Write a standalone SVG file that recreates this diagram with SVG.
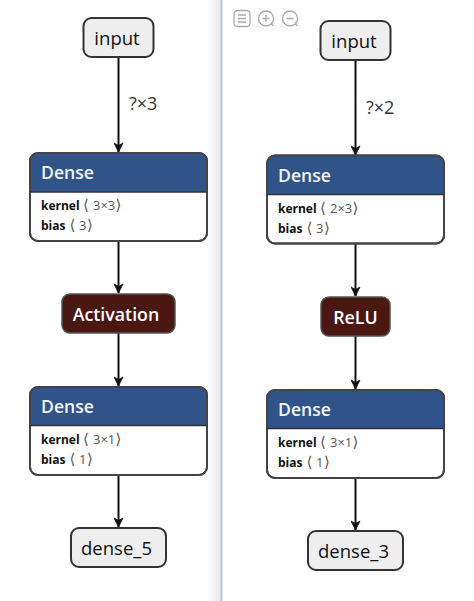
<svg xmlns="http://www.w3.org/2000/svg" width="474" height="601" viewBox="0 0 474 601">
<style>
text{font-family:"Open Sans","Noto Sans",sans-serif}
.edge{stroke:#111;stroke-width:2;fill:none;marker-end:url(#arr)}
.box{fill:#eee;stroke:#333;stroke-width:2}
.lbl{font-size:18.5px;font-weight:500;fill:#111;text-anchor:middle}
.act{fill:#4a1811;stroke:#555;stroke-width:1.5}
.actl{font-size:17.8px;font-weight:600;fill:#fff;text-anchor:middle}
.frame{fill:#fff;stroke:#444;stroke-width:2}
.head{fill:#30548a}
.sep{stroke:#333;stroke-width:1.5}
.title{font-size:17.6px;font-weight:600;fill:#f4f6fa}
.attr{font-size:12px;fill:#111}
.attr .k{font-weight:700}
.attr .s{font-size:13px;fill:#555}
.attr .b{font-family:"DejaVu Sans",sans-serif;font-size:15px;fill:#555}
.elab{font-size:18px;fill:#333}
.ic{fill:none;stroke:#aaa;stroke-width:1.3}
</style>
<defs>
<marker id="arr" viewBox="0 0 12 10" refX="10" refY="5" markerWidth="12" markerHeight="10" markerUnits="userSpaceOnUse" orient="auto">
<path d="M1 0.5L10 5L1 9.5L3.5 5Z" fill="#111" stroke="#111" stroke-width="0.8"/>
</marker>
<linearGradient id="sh" x1="0" x2="1" y1="0" y2="0"><stop offset="0" stop-color="#fff"/><stop offset="1" stop-color="#e4e7ea"/></linearGradient>
</defs>
<rect width="474" height="601" fill="#fff"/>
<rect x="207" y="0" width="14" height="601" fill="url(#sh)"/>
<rect x="220.500" y="0" width="2" height="601" fill="#b4c6dc"/>
<g id="toolbar">
<rect x="234" y="10.500" width="16" height="16" rx="3.500" class="ic"/>
<path d="M238 15h8M238 18.500h8M238 22h8" class="ic"/>
<circle cx="266" cy="18.500" r="7.500" class="ic"/><path d="M262.500 18.500h7M266 15v7M271.500 24l2 2" class="ic"/>
<circle cx="290" cy="18.500" r="7.500" class="ic"/><path d="M286.500 18.500h7M295.500 24l2 2" class="ic"/>
</g>
<g id="connectors">
<path class="edge" d="M118.500 57V152"/>
<path class="edge" d="M118.500 241V293"/>
<path class="edge" d="M118.500 333V386"/>
<path class="edge" d="M118.500 475V527"/>
<path class="edge" d="M355.500 60V155"/>
<path class="edge" d="M355.500 244V296"/>
<path class="edge" d="M355.500 336V389"/>
<path class="edge" d="M355.500 478V530"/>
<text class="elab" x="129" y="110">?×3</text>
<text class="elab" x="366" y="114">?×2</text>
</g>
<g id="input-left"><rect class="box" x="83.500" y="18" width="70" height="39" rx="8"/><text class="lbl" x="117" y="44.500">input</text></g>
<g id="dense-left-1">
<rect class="frame" x="30" y="153" width="177" height="88" rx="8"/>
<path class="head" d="M38 153H199A8 8 0 0 1 207 161V192H30V161A8 8 0 0 1 38 153Z"/>
<rect x="30" y="153" width="177" height="88" rx="8" fill="none" stroke="#444" stroke-width="2"/>
<path class="sep" d="M30 192H207"/>
<text class="title" x="41" y="178.500">Dense</text>
<text class="attr" x="41" y="210"><tspan class="k">kernel</tspan><tspan class="b" x="83">⟨</tspan><tspan class="s" x="93">3×3</tspan><tspan class="b" x="115.500">⟩</tspan></text>
<text class="attr" x="41" y="230"><tspan class="k">bias</tspan><tspan class="b" x="69.500">⟨</tspan><tspan class="s" x="79">3</tspan><tspan class="b" x="87">⟩</tspan></text>
</g>
<g id="activation"><rect class="act" x="62" y="294" width="113" height="39" rx="8"/><text class="actl" x="116" y="320.500">Activation</text></g>
<g id="dense-left-2">
<rect class="frame" x="30" y="387" width="177" height="88" rx="8"/>
<path class="head" d="M38 387H199A8 8 0 0 1 207 395V425H30V395A8 8 0 0 1 38 387Z"/>
<rect x="30" y="387" width="177" height="88" rx="8" fill="none" stroke="#444" stroke-width="2"/>
<path class="sep" d="M30 425.500H207"/>
<text class="title" x="41" y="412.500">Dense</text>
<text class="attr" x="41" y="444"><tspan class="k">kernel</tspan><tspan class="b" x="83">⟨</tspan><tspan class="s" x="93">3×1</tspan><tspan class="b" x="115.500">⟩</tspan></text>
<text class="attr" x="41" y="464"><tspan class="k">bias</tspan><tspan class="b" x="69.500">⟨</tspan><tspan class="s" x="79">1</tspan><tspan class="b" x="87">⟩</tspan></text>
</g>
<g id="dense_5"><rect class="box" x="71" y="528" width="95" height="39" rx="8"/><text class="lbl" x="116.500" y="554.500">dense_5</text></g>
<g id="input-right"><rect class="box" x="320.500" y="21" width="70" height="39" rx="8"/><text class="lbl" x="354" y="47.500">input</text></g>
<g id="dense-right-1">
<rect class="frame" x="267" y="155.500" width="177" height="88" rx="8"/>
<path class="head" d="M275 155.500H436A8 8 0 0 1 444 163.500V194.500H267V163.500A8 8 0 0 1 275 155.500Z"/>
<rect x="267" y="155.500" width="177" height="88" rx="8" fill="none" stroke="#444" stroke-width="2"/>
<path class="sep" d="M267 194.500H444"/>
<text class="title" x="278" y="181.500">Dense</text>
<text class="attr" x="278" y="213"><tspan class="k">kernel</tspan><tspan class="b" x="320">⟨</tspan><tspan class="s" x="330">2×3</tspan><tspan class="b" x="352.500">⟩</tspan></text>
<text class="attr" x="278" y="233"><tspan class="k">bias</tspan><tspan class="b" x="306.500">⟨</tspan><tspan class="s" x="316">3</tspan><tspan class="b" x="324">⟩</tspan></text>
</g>
<g id="relu"><rect class="act" x="321" y="297" width="69" height="39" rx="8"/><text class="actl" x="355.500" y="323.500">ReLU</text></g>
<g id="dense-right-2">
<rect class="frame" x="267" y="390" width="177" height="88" rx="8"/>
<path class="head" d="M275 390H436A8 8 0 0 1 444 398V428H267V398A8 8 0 0 1 275 390Z"/>
<rect x="267" y="390" width="177" height="88" rx="8" fill="none" stroke="#444" stroke-width="2"/>
<path class="sep" d="M267 428.500H444"/>
<text class="title" x="278" y="415.500">Dense</text>
<text class="attr" x="278" y="447"><tspan class="k">kernel</tspan><tspan class="b" x="320">⟨</tspan><tspan class="s" x="330">3×1</tspan><tspan class="b" x="352.500">⟩</tspan></text>
<text class="attr" x="278" y="467"><tspan class="k">bias</tspan><tspan class="b" x="306.500">⟨</tspan><tspan class="s" x="316">1</tspan><tspan class="b" x="324">⟩</tspan></text>
</g>
<g id="dense_3"><rect class="box" x="308" y="531" width="95" height="39" rx="8"/><text class="lbl" x="353.500" y="557.500">dense_3</text></g>
</svg>
